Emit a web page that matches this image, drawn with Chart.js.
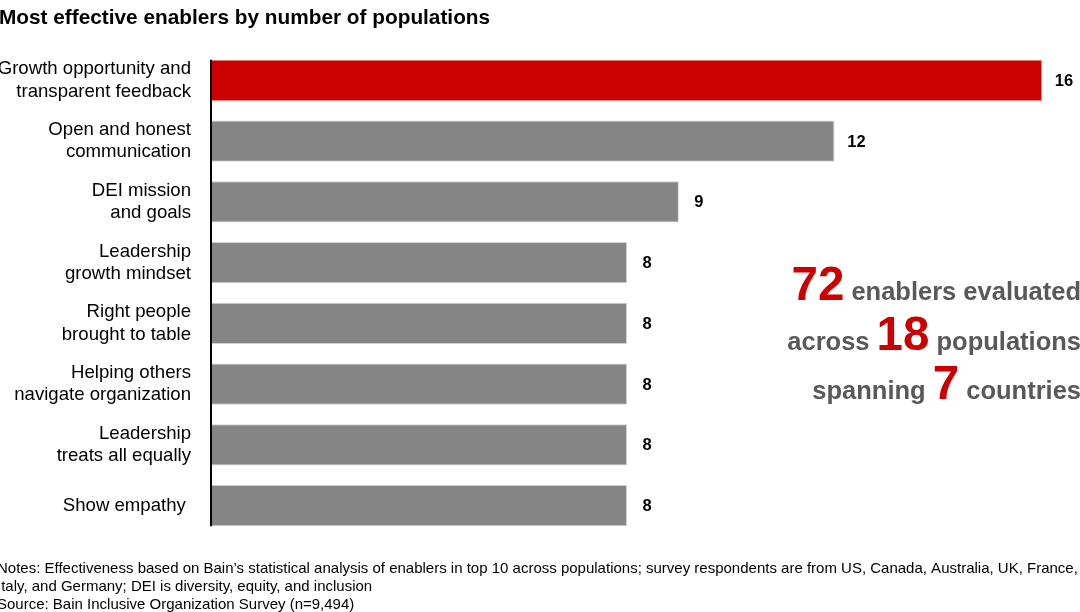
<!DOCTYPE html>
<html>
<head>
<meta charset="utf-8">
<script src="https://cdn.jsdelivr.net/npm/chart.js@4.4.1/dist/chart.umd.min.js"></script>
<style>
  html, body { margin: 0; padding: 0; background: #fff; }
  #wrap { position: relative; width: 1080px; height: 612px; }
</style>
</head>
<body>
<div id="wrap"><canvas id="enablersChart" width="1080" height="612"></canvas></div>
<script>
const categories = [
  ['Growth opportunity and', 'transparent feedback'],
  ['Open and honest', 'communication'],
  ['DEI mission', 'and goals'],
  ['Leadership', 'growth mindset'],
  ['Right people', 'brought to table'],
  ['Helping others', 'navigate organization'],
  ['Leadership', 'treats all equally'],
  'Show empathy '
];
const populations = [16, 12, 9, 8, 8, 8, 8, 8];
const barColors = ['#cc0000', '#858585', '#858585', '#858585', '#858585', '#858585', '#858585', '#858585'];
const edgeColors = ['#ee8a8a', '#d0d0d0', '#d0d0d0', '#d0d0d0', '#d0d0d0', '#d0d0d0', '#d0d0d0', '#d0d0d0'];

const titleText = 'Most effective enablers by number of populations';
const noteLines = [
  'Notes: Effectiveness based on Bain\u2019s statistical analysis of enablers in top 10 across populations; survey respondents are from US, Canada, Australia, UK, France,',
  'Italy, and Germany; DEI is diversity, equity, and inclusion',
  'Source: Bain Inclusive Organization Survey (n=9,494)'
];
const calloutLines = [
  [['72', true], [' enablers evaluated', false]],
  [['across ', false], ['18', true], [' populations', false]],
  [['spanning ', false], ['7', true], [' countries', false]]
];

const FONT = 'Arial, "Liberation Sans", sans-serif';

const extras = {
  id: 'extras',
  afterDraw(chart) {
    const ctx = chart.ctx;
    const meta = chart.getDatasetMeta(0);
    ctx.save();

    // title
    ctx.fillStyle = '#000';
    ctx.font = 'bold 20.8px ' + FONT;
    ctx.textAlign = 'left';
    ctx.textBaseline = 'alphabetic';
    ctx.fillText(titleText, -1, 24);

    // axis line along the bars
    const first = meta.data[0], last = meta.data[meta.data.length - 1];
    const x0 = chart.scales.x.getPixelForValue(0);
    ctx.strokeStyle = '#000';
    ctx.lineWidth = 2;
    ctx.beginPath();
    ctx.moveTo(x0 - 1, first.y - first.height / 2);
    ctx.lineTo(x0 - 1, last.y + last.height / 2);
    ctx.stroke();

    // value labels
    ctx.font = 'bold 16.5px ' + FONT;
    ctx.textAlign = 'center';
    ctx.textBaseline = 'middle';
    meta.data.forEach((bar, i) => {
      const off = populations[i] >= 10 ? 22 : 20;
      ctx.fillText(String(populations[i]), bar.x + off, bar.y + 1);
    });

    // callout on the right
    const bigFont = 'bold 47.5px ' + FONT;
    const smallFont = 'bold 25.5px ' + FONT;
    const baselines = [300, 350, 399];
    ctx.textAlign = 'left';
    ctx.textBaseline = 'alphabetic';
    calloutLines.forEach((parts, li) => {
      let total = 0;
      parts.forEach(p => { ctx.font = p[1] ? bigFont : smallFont; total += ctx.measureText(p[0]).width; });
      let x = 1081 - total;
      parts.forEach(p => {
        ctx.font = p[1] ? bigFont : smallFont;
        ctx.fillStyle = p[1] ? '#cc0000' : '#595959';
        ctx.fillText(p[0], x, baselines[li]);
        x += ctx.measureText(p[0]).width;
      });
    });

    // notes
    ctx.fillStyle = '#000';
    ctx.font = '15px ' + FONT;
    noteLines.forEach((t, i) => ctx.fillText(t, -3, 573 + i * 18));

    ctx.restore();
  }
};

const ctx = document.getElementById('enablersChart').getContext('2d');
const enablersChart = new Chart(ctx, {
  type: 'bar',
  data: {
    labels: categories,
    datasets: [{
      data: populations,
      backgroundColor: barColors,
      borderColor: edgeColors,
      borderWidth: 1,
      barPercentage: 0.675,
      categoryPercentage: 1
    }]
  },
  options: {
    indexAxis: 'y',
    responsive: false,
    animation: false,
    layout: { padding: { top: 50, bottom: 76, right: 38, left: 0 } },
    plugins: {
      legend: { display: false },
      tooltip: { enabled: false }
    },
    scales: {
      x: {
        display: false,
        min: 0,
        max: 16
      },
      y: {
        afterFit: (scale) => { scale.width = 212; },
        grid: { display: false, drawTicks: false },
        border: { display: false },
        ticks: {
          color: '#000',
          padding: 21,
          font: { family: FONT, size: 18.6, lineHeight: 1.2 }
        }
      }
    }
  },
  plugins: [extras]
});
</script>
</body>
</html>
